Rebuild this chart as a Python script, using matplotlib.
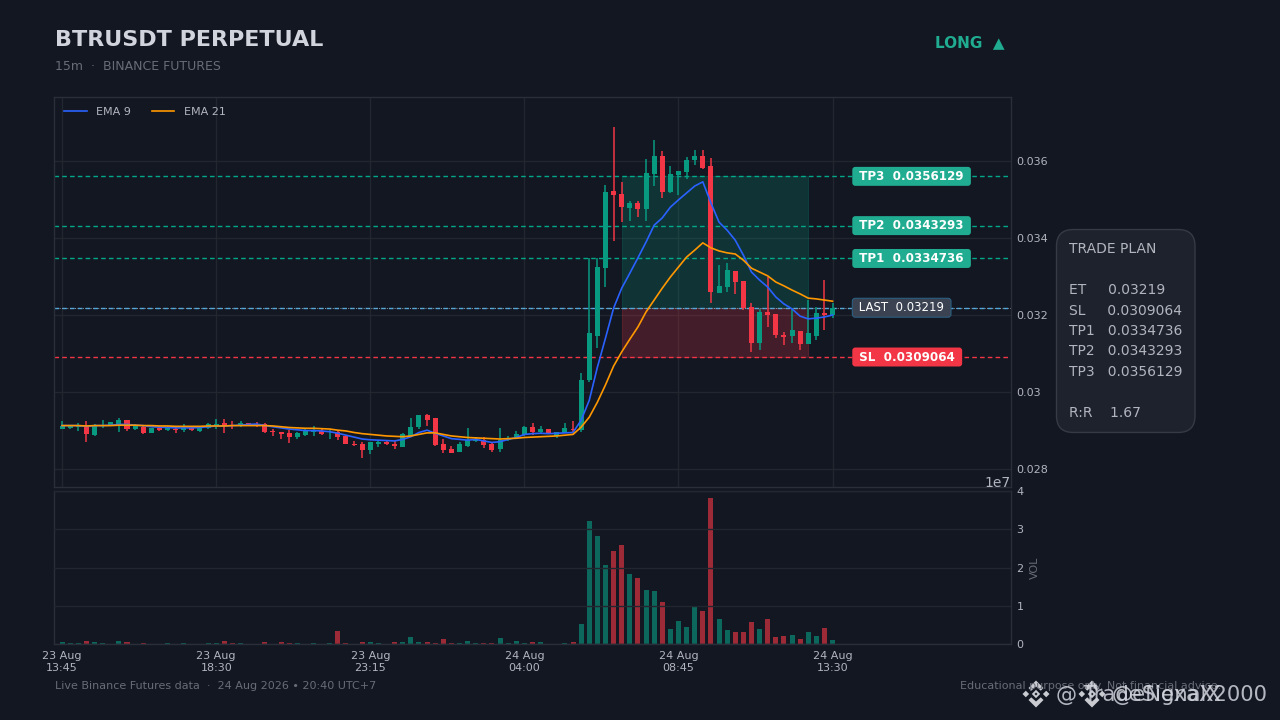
'''
BTRUSDT PERPETUAL trade plan chart
candles + EMA 9/21, trade levels, volume panel below
'''
import matplotlib
matplotlib.use("Agg")
import matplotlib.pyplot as plt
from matplotlib.patches import Polygon
from matplotlib.ticker import FormatStrFormatter, MultipleLocator
import numpy as np

BG = '#131722'
GRID = '#22262f'
SPINE = '#2a2e39'
GREEN = '#089981'
RED = '#f23645'
TEAL = '#20ac91'
TEXT = '#b2b5be'
MUTED = '#686c77'

opens = [
    0.02903, 0.02905, 0.02909, 0.02909, 0.02887, 0.02911, 0.02912, 0.02915, 0.02926, 0.02903, 0.02908, 0.02892, 0.02906, 0.02900, 0.02904, 0.02900,
    0.02905, 0.02898, 0.02905, 0.02912, 0.02919, 0.02912, 0.02910, 0.02919, 0.02915, 0.02916, 0.02899, 0.02895, 0.02892, 0.02881, 0.02887, 0.02896,
    0.02898, 0.02892, 0.02894, 0.02885, 0.02864, 0.02864, 0.02848, 0.02864, 0.02868, 0.02864, 0.02856, 0.02886, 0.02908, 0.02939, 0.02932, 0.02864,
    0.02851, 0.02843, 0.02859, 0.02872, 0.02874, 0.02864, 0.02851, 0.02874, 0.02879, 0.02887, 0.02908, 0.02895, 0.02903, 0.02885, 0.02892, 0.02903,
    0.02900, 0.03031, 0.03145, 0.03322, 0.03523, 0.03515, 0.03479, 0.03492, 0.03476, 0.03567, 0.03614, 0.03521, 0.03565, 0.03573, 0.03604, 0.03614,
    0.03588, 0.03257, 0.03273, 0.03315, 0.03289, 0.03221, 0.03127, 0.03208, 0.03203, 0.03148, 0.03145, 0.03158, 0.03124, 0.03145, 0.03205, 0.03200,
]
highs = [
    0.02923, 0.02914, 0.02919, 0.02923, 0.02915, 0.02926, 0.02922, 0.02931, 0.02926, 0.02915, 0.02912, 0.02906, 0.02911, 0.02911, 0.02909, 0.02915,
    0.02909, 0.02912, 0.02918, 0.02928, 0.02928, 0.02923, 0.02923, 0.02919, 0.02921, 0.02918, 0.02902, 0.02896, 0.02900, 0.02896, 0.02902, 0.02911,
    0.02907, 0.02900, 0.02899, 0.02885, 0.02872, 0.02870, 0.02869, 0.02872, 0.02872, 0.02871, 0.02892, 0.02931, 0.02939, 0.02943, 0.02932, 0.02876,
    0.02859, 0.02868, 0.02907, 0.02881, 0.02881, 0.02866, 0.02907, 0.02885, 0.02899, 0.02911, 0.02918, 0.02911, 0.02903, 0.02896, 0.02919, 0.02925,
    0.03049, 0.03349, 0.03349, 0.03539, 0.03690, 0.03547, 0.03497, 0.03497, 0.03607, 0.03656, 0.03627, 0.03588, 0.03575, 0.03612, 0.03630, 0.03630,
    0.03609, 0.03330, 0.03336, 0.03315, 0.03289, 0.03231, 0.03216, 0.03299, 0.03203, 0.03156, 0.03218, 0.03158, 0.03239, 0.03221, 0.03291, 0.03231,
]
lows = [
    0.02903, 0.02904, 0.02899, 0.02870, 0.02885, 0.02906, 0.02911, 0.02896, 0.02899, 0.02901, 0.02889, 0.02892, 0.02899, 0.02899, 0.02893, 0.02896,
    0.02899, 0.02896, 0.02904, 0.02904, 0.02893, 0.02903, 0.02908, 0.02911, 0.02909, 0.02893, 0.02886, 0.02878, 0.02867, 0.02878, 0.02886, 0.02886,
    0.02887, 0.02876, 0.02875, 0.02863, 0.02860, 0.02828, 0.02838, 0.02857, 0.02862, 0.02850, 0.02855, 0.02885, 0.02904, 0.02911, 0.02860, 0.02841,
    0.02840, 0.02842, 0.02857, 0.02869, 0.02854, 0.02844, 0.02844, 0.02872, 0.02877, 0.02885, 0.02887, 0.02890, 0.02889, 0.02879, 0.02892, 0.02893,
    0.02895, 0.03025, 0.03114, 0.03273, 0.03393, 0.03442, 0.03445, 0.03455, 0.03445, 0.03536, 0.03505, 0.03518, 0.03513, 0.03554, 0.03591, 0.03580,
    0.03231, 0.03257, 0.03260, 0.03255, 0.03213, 0.03104, 0.03109, 0.03169, 0.03140, 0.03122, 0.03127, 0.03109, 0.03124, 0.03135, 0.03161, 0.03192,
]
closes = [
    0.02911, 0.02912, 0.02911, 0.02890, 0.02912, 0.02912, 0.02921, 0.02926, 0.02903, 0.02911, 0.02892, 0.02906, 0.02900, 0.02908, 0.02900, 0.02907,
    0.02900, 0.02908, 0.02916, 0.02916, 0.02911, 0.02911, 0.02918, 0.02912, 0.02912, 0.02895, 0.02896, 0.02890, 0.02882, 0.02892, 0.02899, 0.02899,
    0.02890, 0.02893, 0.02882, 0.02864, 0.02861, 0.02848, 0.02869, 0.02869, 0.02865, 0.02859, 0.02890, 0.02908, 0.02939, 0.02926, 0.02861, 0.02848,
    0.02840, 0.02864, 0.02874, 0.02876, 0.02861, 0.02848, 0.02874, 0.02880, 0.02890, 0.02908, 0.02895, 0.02903, 0.02890, 0.02895, 0.02905, 0.02900,
    0.03031, 0.03153, 0.03325, 0.03521, 0.03513, 0.03481, 0.03492, 0.03476, 0.03570, 0.03614, 0.03521, 0.03567, 0.03575, 0.03604, 0.03614, 0.03583,
    0.03260, 0.03276, 0.03317, 0.03286, 0.03218, 0.03127, 0.03208, 0.03200, 0.03148, 0.03143, 0.03161, 0.03124, 0.03153, 0.03205, 0.03200, 0.03219,
]
ema9 = [
    0.02912, 0.02912, 0.02912, 0.02910, 0.02912, 0.02912, 0.02913, 0.02915, 0.02915, 0.02913, 0.02912, 0.02909, 0.02908, 0.02907, 0.02906, 0.02906,
    0.02906, 0.02907, 0.02909, 0.02911, 0.02911, 0.02912, 0.02913, 0.02915, 0.02916, 0.02912, 0.02909, 0.02906, 0.02903, 0.02901, 0.02899, 0.02899,
    0.02898, 0.02896, 0.02892, 0.02887, 0.02882, 0.02877, 0.02875, 0.02874, 0.02873, 0.02872, 0.02876, 0.02883, 0.02894, 0.02900, 0.02892, 0.02885,
    0.02878, 0.02876, 0.02874, 0.02876, 0.02872, 0.02868, 0.02870, 0.02876, 0.02881, 0.02889, 0.02891, 0.02892, 0.02891, 0.02892, 0.02893, 0.02894,
    0.02926, 0.02978, 0.03064, 0.03140, 0.03218, 0.03270, 0.03309, 0.03349, 0.03390, 0.03434, 0.03453, 0.03481, 0.03500, 0.03518, 0.03536, 0.03547,
    0.03492, 0.03442, 0.03421, 0.03395, 0.03356, 0.03312, 0.03291, 0.03273, 0.03247, 0.03229, 0.03216, 0.03197, 0.03190, 0.03192, 0.03195, 0.03200,
]
ema21 = [
    0.02912, 0.02912, 0.02912, 0.02911, 0.02912, 0.02912, 0.02912, 0.02913, 0.02913, 0.02913, 0.02912, 0.02912, 0.02911, 0.02911, 0.02910, 0.02910,
    0.02910, 0.02910, 0.02911, 0.02911, 0.02911, 0.02912, 0.02912, 0.02912, 0.02912, 0.02912, 0.02911, 0.02909, 0.02907, 0.02906, 0.02905, 0.02905,
    0.02904, 0.02903, 0.02900, 0.02898, 0.02894, 0.02891, 0.02889, 0.02887, 0.02885, 0.02884, 0.02883, 0.02885, 0.02889, 0.02893, 0.02893, 0.02889,
    0.02885, 0.02883, 0.02881, 0.02880, 0.02879, 0.02878, 0.02877, 0.02878, 0.02879, 0.02881, 0.02882, 0.02883, 0.02884, 0.02885, 0.02887, 0.02889,
    0.02908, 0.02934, 0.02973, 0.03018, 0.03067, 0.03104, 0.03137, 0.03169, 0.03208, 0.03239, 0.03270, 0.03299, 0.03325, 0.03351, 0.03369, 0.03388,
    0.03375, 0.03367, 0.03362, 0.03359, 0.03343, 0.03322, 0.03312, 0.03302, 0.03286, 0.03276, 0.03265, 0.03255, 0.03244, 0.03242, 0.03239, 0.03236,
]
# volume in units of 1e7
volumes = [
    0.05, 0.03, 0.03, 0.08, 0.05, 0.03, 0.01, 0.08, 0.05, 0.01, 0.03, 0.01, 0.01, 0.03, 0.01, 0.03,
    0.01, 0.01, 0.03, 0.03, 0.08, 0.03, 0.03, 0.01, 0.01, 0.05, 0.01, 0.05, 0.03, 0.03, 0.01, 0.03,
    0.01, 0.03, 0.34, 0.03, 0.01, 0.05, 0.05, 0.03, 0.01, 0.05, 0.05, 0.18, 0.05, 0.05, 0.03, 0.13,
    0.03, 0.03, 0.08, 0.03, 0.03, 0.03, 0.16, 0.03, 0.08, 0.03, 0.05, 0.05, 0.01, 0.01, 0.03, 0.05,
    0.52, 3.22, 2.82, 2.07, 2.43, 2.59, 1.83, 1.73, 1.41, 1.39, 1.10, 0.39, 0.60, 0.44, 0.98, 0.86,
    3.82, 0.65, 0.37, 0.31, 0.31, 0.58, 0.39, 0.65, 0.18, 0.21, 0.24, 0.13, 0.31, 0.21, 0.42, 0.10,
]

time_ticks = [0, 19, 38, 57, 76, 95]
time_labels = ['23 Aug\n13:45', '23 Aug\n18:30', '23 Aug\n23:15', '24 Aug\n04:00', '24 Aug\n08:45', '24 Aug\n13:30']
price_ticks = [0.028, 0.030, 0.032, 0.034, 0.036]

entry = 0.03219
stop = 0.0309064
tp_names = ['TP1', 'TP2', 'TP3']
tp_levels = [0.0334736, 0.0343293, 0.0356129]
zone_start = 69
zone_end = 92

plan_text = ('TRADE PLAN\n\n'
             'ET     0.03219\n'
             'SL     0.0309064\n'
             'TP1   0.0334736\n'
             'TP2   0.0343293\n'
             'TP3   0.0356129\n\n'
             'R:R    1.67')

W, H = 1280, 720


def px(x, y):
    # pixel position (from top left) to figure fraction
    return x / W, 1 - y / H


def axes_rect(left, top, right, bottom):
    return [left / W, 1 - bottom / H, (right - left) / W, (bottom - top) / H]


def draw_logo(fig, cx, cy):
    # the small diamond logo in front of each handle
    col = '#c9cbd1'
    shapes = [
        [(0, -13.5), (7.5, -6), (4.8, -3.3), (0, -7.5), (-4.8, -3.3), (-7.5, -6)],
        [(0, 13.5), (7.5, 6), (4.8, 3.3), (0, 7.5), (-4.8, 3.3), (-7.5, 6)],
        [(-13.5, 0), (-10.2, -3.3), (-6.9, 0), (-10.2, 3.3)],
        [(13.5, 0), (10.2, -3.3), (6.9, 0), (10.2, 3.3)],
        [(0, -4.2), (4.2, 0), (0, 4.2), (-4.2, 0)],
    ]
    for s in shapes:
        pts = [px(cx + a, cy + b) for a, b in s]
        fig.add_artist(Polygon(pts, closed=True, fc=col, ec='none', transform=fig.transFigure))
    hole = [px(cx + a, cy + b) for a, b in [(0, -1.5), (1.5, 0), (0, 1.5), (-1.5, 0)]]
    fig.add_artist(Polygon(hole, closed=True, fc=BG, ec='none', transform=fig.transFigure))


fig = plt.figure(figsize=(W / 100, H / 100), dpi=100, facecolor=BG)
ax = fig.add_axes(axes_rect(54, 97, 1011, 487), facecolor=BG)
ax_vol = fig.add_axes(axes_rect(54, 491, 1011, 644), facecolor=BG, sharex=ax)

x = np.arange(len(closes))
o = np.array(opens)
c = np.array(closes)
up = c >= o
colors = [GREEN if u else RED for u in up]

# trade zones
ax.fill_between([zone_start, zone_end], entry, tp_levels[2], color=GREEN, alpha=0.22, lw=0.8, zorder=1)
ax.fill_between([zone_start, zone_end], stop, entry, color=RED, alpha=0.22, lw=0.8, zorder=1)

# level lines
dash = (0, (3.3, 2.3))
for level in tp_levels:
    ax.axhline(level, color='#00b894', lw=1.0, ls=dash, alpha=0.9, zorder=1.5)
ax.axhline(stop, color=RED, lw=1.0, ls=dash, zorder=1.5)
ax.axhline(entry, color='#38a9e8', lw=1.0, ls=dash, zorder=1.5)
ax.axhline(closes[-1], color='#9aa0ac', lw=0.7, ls=':', zorder=1.6)

# candles
ax.vlines(x, lows, highs, colors=colors, lw=1.1, zorder=2)
ax.bar(x, np.abs(c - o), bottom=np.minimum(o, c), width=0.62, color=colors, lw=0, zorder=2.1)

ax.plot(x, ema9, color='#2962ff', lw=1.2, label='EMA 9', zorder=3)
ax.plot(x, ema21, color='#ff9800', lw=1.2, label='EMA 21', zorder=3)

# level tags, padded with spaces so the box is wider than it is tall
tag_x = 97.8
tag_box = 'round,pad=0.25,rounding_size=0.25'
for name, level in zip(tp_names, tp_levels):
    ax.text(tag_x, level, f' {name}  {level:.7f} ', color='white', fontsize=8.6, fontweight='bold', va='center',
            bbox=dict(boxstyle=tag_box, fc=TEAL, ec='none'), zorder=5)
ax.text(tag_x, stop, f' SL  {stop:.7f} ', color='white', fontsize=8.6, fontweight='bold', va='center',
        bbox=dict(boxstyle=tag_box, fc=RED, ec='none'), zorder=5)
ax.text(tag_x, closes[-1], f' LAST  {closes[-1]:.5f} ', color='white', fontsize=8.5, va='center',
        bbox=dict(boxstyle=tag_box, fc='#3b4252', ec='#2b5f80', lw=0.8), zorder=5)

ax.set_xlim(-1, 117)
ax.set_ylim(0.02752, 0.03768)
ax.yaxis.tick_right()
ax.set_yticks(price_ticks)
ax.yaxis.set_major_formatter(FormatStrFormatter('%g'))
ax.tick_params(axis='y', length=0, pad=4, labelsize=8, labelcolor=TEXT)
ax.tick_params(axis='x', length=0, labelbottom=False)
ax.set_xticks(time_ticks)
ax.grid(True, color=GRID, lw=1, zorder=0)
ax.set_axisbelow(True)
ax.legend(loc='upper left', ncol=2, frameon=False, fontsize=8, labelcolor=TEXT,
          bbox_to_anchor=(0.004, 0.992), borderaxespad=0.2, columnspacing=1.9, handletextpad=0.85)

# volume panel
ax_vol.bar(x, np.array(volumes) * 1e7, width=0.62, color=colors, alpha=0.62, lw=0, zorder=2)
ax_vol.set_ylim(0, 4e7)
ax_vol.yaxis.tick_right()
ax_vol.yaxis.set_major_locator(MultipleLocator(1e7))
ax_vol.yaxis.set_label_position('right')
ax_vol.set_ylabel('VOL', fontsize=8, color=MUTED, labelpad=4.5)
ax_vol.tick_params(axis='y', length=0, pad=4, labelsize=8, labelcolor=TEXT)
ax_vol.tick_params(axis='x', length=0, pad=5, labelsize=8, labelcolor=TEXT)
ax_vol.set_xticks(time_ticks)
ax_vol.set_xticklabels(time_labels)
ax_vol.grid(True, axis='y', color=GRID, lw=1)
ax_vol.set_axisbelow(False)

for a in (ax, ax_vol):
    for s in a.spines.values():
        s.set_color(SPINE)
        s.set_linewidth(1)

# header and footer
fig.text(*px(55, 40), 'BTRUSDT PERPETUAL', color='#d1d4dc', fontsize=16, fontweight='bold', va='center')
fig.text(*px(55, 66), '15m  ·  BINANCE FUTURES', color=MUTED, fontsize=9, va='center')
fig.text(*px(935, 43), 'LONG  ▲', color=TEAL, fontsize=11, fontweight='bold', va='center')
fig.text(*px(55, 686), 'Live Binance Futures data  ·  24 Aug 2026 • 20:40 UTC+7', color=MUTED, fontsize=8, va='center')
fig.text(*px(1221, 686), 'Educational purpose only. Not financial advice.', color=MUTED, fontsize=8, va='center', ha='right')

# trade plan box
fig.text(*px(1069, 331), plan_text, color=TEXT, fontsize=10, va='center', linespacing=1.59,
         bbox=dict(boxstyle='round,pad=0.9,rounding_size=1.2', fc='#1e222d', ec='#363a45', lw=1))

# overlapping handles bottom right
draw_logo(fig, 1036, 694)
draw_logo(fig, 1092, 694)
fig.text(*px(1056, 695), '@ TradeSignalX', color='#d1d4dc', fontsize=15.2, va='center', alpha=0.85)
fig.text(*px(1112, 695), '@eNexaX2000', color='#d1d4dc', fontsize=15.2, va='center', alpha=0.85)

fig.savefig('out.png', dpi=100, facecolor=BG)
